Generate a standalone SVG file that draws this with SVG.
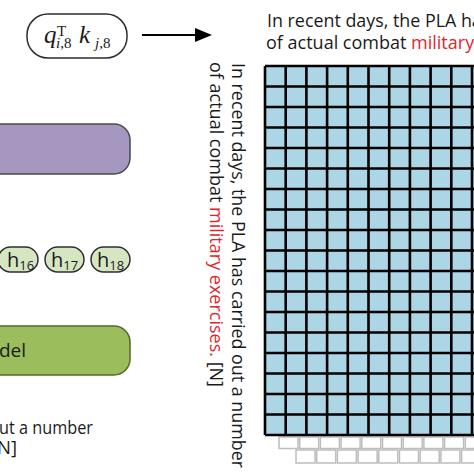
<svg xmlns="http://www.w3.org/2000/svg" width="474" height="474" viewBox="0 0 474 474">
<style>
.sans{font-family:"Open Sans","Noto Sans",sans-serif;fill:#1a1a1a}
.red{fill:#e0262b}
.hbox{fill:#d6e6c3;stroke:#2e2e2e;stroke-width:1.5}
.ht{font-family:"Open Sans","Noto Sans",sans-serif;font-size:20px;fill:#1a1a1a}
.hs{font-size:13px}
.gb{fill:#ffffff;stroke:#bdbdbd;stroke-width:1.5}
.math{font-family:"Liberation Serif",serif;fill:#1a1a1a}
</style>
<rect width="474" height="474" fill="#ffffff"/>

<g id="score-node">
<rect x="27" y="14" width="100" height="44" rx="21" fill="#ffffff" stroke="#2e2e2e" stroke-width="1.5"/>
<text class="math" x="44" y="43" font-size="25" font-style="italic">q</text>
<text class="math" x="57" y="36" font-size="15">T</text>
<text class="math" x="56" y="48" font-size="15"><tspan font-style="italic">i</tspan>,8</text>
<text class="math" x="79" y="43" font-size="25" font-style="italic">k</text>
<text class="math" x="95" y="48" font-size="15"><tspan font-style="italic">j</tspan>,8</text>
</g>

<g id="connectors">
<line x1="142" y1="35" x2="198" y2="35" stroke="#000" stroke-width="2.2"/>
<polygon points="195,28 212,35 195,42" fill="#000"/>
</g>

<g id="purple-node">
<rect x="-30" y="124" width="160" height="50" rx="16" fill="#a597c0" stroke="#4a4a4a" stroke-width="1.5"/>
</g>

<g id="h16">
<rect x="-2" y="247" width="40" height="25" rx="12.5" class="hbox"/>
<text class="ht" x="7" y="267">h<tspan class="hs" dy="3">16</tspan></text>
</g>
<g id="h17">
<rect x="45" y="247" width="39" height="25" rx="12.5" class="hbox"/>
<text class="ht" x="51" y="267">h<tspan class="hs" dy="3">17</tspan></text>
</g>
<g id="h18">
<rect x="91" y="247" width="39" height="25" rx="12.5" class="hbox"/>
<text class="ht" x="97" y="267">h<tspan class="hs" dy="3">18</tspan></text>
</g>

<g id="model-node">
<rect x="-30" y="326" width="160" height="49" rx="16" fill="#9cbd5b" stroke="#4f6a2c" stroke-width="1.5"/>
<text class="sans" x="-1" y="357" font-size="19">del</text>
</g>

<g id="bottom-text">
<text class="sans" x="-1" y="434" font-size="18.5" textLength="94" lengthAdjust="spacingAndGlyphs">ut a number</text>
<text class="sans" x="-3" y="454" font-size="18.5">N]</text>
</g>

<g id="top-text">
<text class="sans" x="267" y="27" font-size="17.5" textLength="405" lengthAdjust="spacingAndGlyphs">In recent days, the PLA has carried out a number</text>
<text class="sans" x="266" y="49" font-size="17.5" textLength="325" lengthAdjust="spacingAndGlyphs">of actual combat <tspan class="red">military exercises.</tspan> [N]</text>
</g>

<g id="side-text">
<text class="sans" transform="translate(232,63) rotate(90)" font-size="17.5" textLength="405" lengthAdjust="spacingAndGlyphs">In recent days, the PLA has carried out a number</text>
<text class="sans" transform="translate(210,62) rotate(90)" font-size="17.5" textLength="325" lengthAdjust="spacingAndGlyphs">of actual combat <tspan class="red">military exercises.</tspan> [N]</text>
</g>

<g id="back-layers">
<rect class="gb" x="279" y="437" width="19" height="11.5"/>
<rect class="gb" x="299.7" y="437" width="19" height="11.5"/>
<rect class="gb" x="320.4" y="437" width="19" height="11.5"/>
<rect class="gb" x="341.1" y="437" width="19" height="11.5"/>
<rect class="gb" x="361.8" y="437" width="19" height="11.5"/>
<rect class="gb" x="382.5" y="437" width="19" height="11.5"/>
<rect class="gb" x="403.2" y="437" width="19" height="11.5"/>
<rect class="gb" x="423.9" y="437" width="19" height="11.5"/>
<rect class="gb" x="444.6" y="437" width="19" height="11.5"/>
<rect class="gb" x="465.3" y="437" width="19" height="11.5"/>
<rect class="gb" x="296" y="450" width="19" height="13"/>
<rect class="gb" x="316.7" y="450" width="19" height="13"/>
<rect class="gb" x="337.4" y="450" width="19" height="13"/>
<rect class="gb" x="358.1" y="450" width="19" height="13"/>
<rect class="gb" x="378.8" y="450" width="19" height="13"/>
<rect class="gb" x="399.5" y="450" width="19" height="13"/>
<rect class="gb" x="420.2" y="450" width="19" height="13"/>
<rect class="gb" x="440.9" y="450" width="19" height="13"/>
<rect class="gb" x="461.6" y="450" width="19" height="13"/>
</g>

<g id="attention-grid">
<rect x="265" y="66" width="215" height="369" fill="#acd6e6"/>
<path fill="none" stroke="#000" stroke-width="2.6" d="M265,66H480M265,86.5H480M265,107H480M265,127.5H480M265,148H480M265,168.5H480M265,189H480M265,209.5H480M265,230H480M265,250.5H480M265,271H480M265,291.5H480M265,312H480M265,332.5H480M265,353H480M265,373.5H480M265,394H480M265,414.5H480M265,435H480M265,66V435M285.7,66V435M306.4,66V435M327.1,66V435M347.8,66V435M368.5,66V435M389.2,66V435M409.9,66V435M430.6,66V435M451.3,66V435M472,66V435"/>
</g>
</svg>
